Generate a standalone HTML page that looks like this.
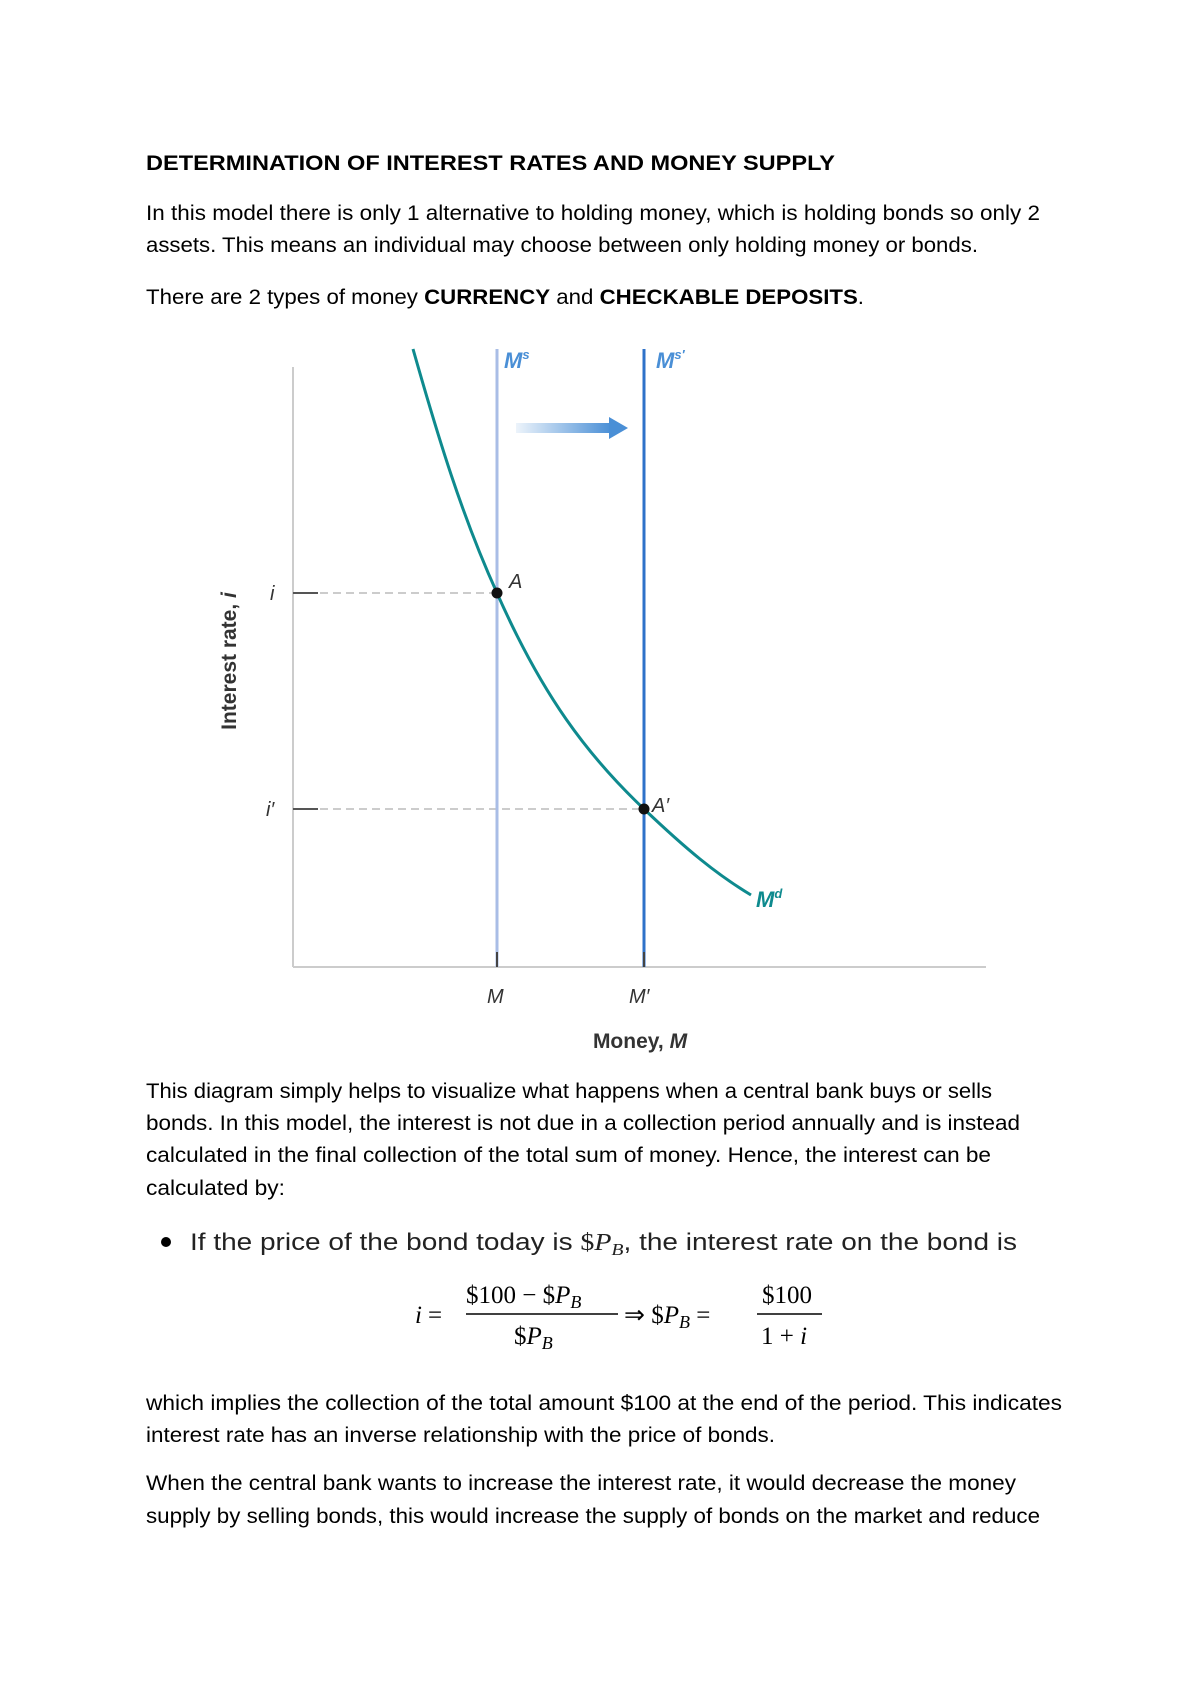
<!DOCTYPE html>
<html><head><meta charset="utf-8"><style>
html,body{margin:0;padding:0;background:#fff}
svg{display:block}
.t{font-family:"Liberation Sans",sans-serif;font-size:21px;fill:#000}
.m{font-family:"Liberation Serif",serif;font-size:25px;fill:#000}
.c{font-family:"Liberation Sans",sans-serif;fill:#333}
</style></head><body>
<svg width="1200" height="1698" viewBox="0 0 1200 1698" xmlns="http://www.w3.org/2000/svg">
<text class="t" x="146" y="170" font-weight="bold" textLength="689" lengthAdjust="spacingAndGlyphs">DETERMINATION OF INTEREST RATES AND MONEY SUPPLY</text>
<text class="t" x="146" y="220" textLength="894" lengthAdjust="spacingAndGlyphs">In this model there is only 1 alternative to holding money, which is holding bonds so only 2</text>
<text class="t" x="146" y="252" textLength="832" lengthAdjust="spacingAndGlyphs">assets. This means an individual may choose between only holding money or bonds.</text>
<text class="t" x="146" y="304" textLength="718" lengthAdjust="spacingAndGlyphs">There are 2 types of money <tspan font-weight="bold">CURRENCY</tspan> and <tspan font-weight="bold">CHECKABLE DEPOSITS</tspan>.</text>

<!-- chart -->
<line x1="293" y1="367" x2="293" y2="967" stroke="#ccc" stroke-width="2"/>
<line x1="293" y1="967" x2="986" y2="967" stroke="#ccc" stroke-width="2"/>
<line x1="293" y1="593" x2="318" y2="593" stroke="#555" stroke-width="2"/>
<line x1="293" y1="809" x2="318" y2="809" stroke="#555" stroke-width="2"/>
<line x1="320" y1="593" x2="497" y2="593" stroke="#bbb" stroke-width="1.5" stroke-dasharray="8,5"/>
<line x1="320" y1="809" x2="644" y2="809" stroke="#bbb" stroke-width="1.5" stroke-dasharray="8,5"/>
<line x1="497" y1="349" x2="497" y2="967" stroke="#a9bde6" stroke-width="3"/>
<line x1="644" y1="349" x2="644" y2="967" stroke="#2f72c9" stroke-width="3"/>
<line x1="497" y1="952" x2="497" y2="967" stroke="#444" stroke-width="2"/>
<line x1="644" y1="952" x2="644" y2="967" stroke="#444" stroke-width="2"/>
<path d="M413,349 C438,437 462,516 497,593 C542,695 587,755 644,809 C686,849 716,874 751,895" fill="none" stroke="#0e8a8e" stroke-width="3"/>
<defs><linearGradient id="g" x1="0" x2="1"><stop offset="0" stop-color="#4a8fd6" stop-opacity="0.1"/><stop offset="1" stop-color="#4a8fd6"/></linearGradient></defs>
<rect x="516" y="423" width="95" height="10" fill="url(#g)"/>
<polygon points="609,417 628,428 609,439" fill="#4a8fd6"/>
<circle cx="497" cy="593" r="5.5" fill="#111"/>
<circle cx="644" cy="809" r="5.5" fill="#111"/>
<text class="c" x="509" y="588" font-size="20" font-style="italic">A</text>
<text class="c" x="652" y="812" font-size="20" font-style="italic">A′</text>
<text x="504" y="368" font-family="Liberation Sans,sans-serif" font-size="22" font-weight="bold" font-style="italic" fill="#4a8fd6">M<tspan font-size="13" dy="-9">s</tspan></text>
<text x="656" y="368" font-family="Liberation Sans,sans-serif" font-size="22" font-weight="bold" font-style="italic" fill="#4a8fd6">M<tspan font-size="13" dy="-9">s′</tspan></text>
<text x="756" y="907" font-family="Liberation Sans,sans-serif" font-size="22" font-weight="bold" font-style="italic" fill="#0e8a8e">M<tspan font-size="13" dy="-9">d</tspan></text>
<text class="c" x="270" y="600" font-size="20" font-style="italic">i</text>
<text class="c" x="266" y="816" font-size="20" font-style="italic">i′</text>
<text class="c" x="487" y="1003" font-size="20" font-style="italic">M</text>
<text class="c" x="629" y="1003" font-size="20" font-style="italic">M′</text>
<text class="c" x="640" y="1048" font-size="21" font-weight="bold" text-anchor="middle">Money, <tspan font-style="italic">M</tspan></text>
<text class="c" x="0" y="0" font-size="21" font-weight="bold" text-anchor="middle" transform="translate(236,661) rotate(-90)">Interest rate, <tspan font-style="italic">i</tspan></text>

<text class="t" x="146" y="1098" textLength="846" lengthAdjust="spacingAndGlyphs">This diagram simply helps to visualize what happens when a central bank buys or sells</text>
<text class="t" x="146" y="1130" textLength="874" lengthAdjust="spacingAndGlyphs">bonds. In this model, the interest is not due in a collection period annually and is instead</text>
<text class="t" x="146" y="1162" textLength="845" lengthAdjust="spacingAndGlyphs">calculated in the final collection of the total sum of money. Hence, the interest can be</text>
<text class="t" x="146" y="1195" textLength="139" lengthAdjust="spacingAndGlyphs">calculated by:</text>

<circle cx="166" cy="1242" r="5" fill="#000"/>
<text x="190" y="1250" font-family="Liberation Sans,sans-serif" font-size="24" fill="#222" textLength="827" lengthAdjust="spacingAndGlyphs">If the price of the bond today is <tspan font-family="Liberation Serif,serif">$<tspan font-style="italic">P</tspan><tspan font-style="italic" font-size="17" dy="5">B</tspan></tspan><tspan dy="-5">, the interest rate on the bond is</tspan></text>

<text class="m" x="415" y="1323" font-style="italic">i</text>
<text class="m" x="428" y="1323">=</text>
<text class="m" x="466" y="1303">$100 − $<tspan font-style="italic">P</tspan><tspan font-style="italic" font-size="18" dy="5">B</tspan></text>
<line x1="466" y1="1314" x2="618" y2="1314" stroke="#000" stroke-width="1.5"/>
<text class="m" x="514" y="1344">$<tspan font-style="italic">P</tspan><tspan font-style="italic" font-size="18" dy="5">B</tspan></text>
<text class="m" x="624" y="1323">⇒ $<tspan font-style="italic">P</tspan><tspan font-style="italic" font-size="18" dy="5">B</tspan><tspan dy="-5"> =</tspan></text>
<text class="m" x="762" y="1303">$100</text>
<line x1="757" y1="1314" x2="822" y2="1314" stroke="#000" stroke-width="1.5"/>
<text class="m" x="761" y="1344">1 + <tspan font-style="italic">i</tspan></text>

<text class="t" x="146" y="1410" textLength="916" lengthAdjust="spacingAndGlyphs">which implies the collection of the total amount $100 at the end of the period. This indicates</text>
<text class="t" x="146" y="1442" textLength="629" lengthAdjust="spacingAndGlyphs">interest rate has an inverse relationship with the price of bonds.</text>
<text class="t" x="146" y="1490" textLength="870" lengthAdjust="spacingAndGlyphs">When the central bank wants to increase the interest rate, it would decrease the money</text>
<text class="t" x="146" y="1523" textLength="894" lengthAdjust="spacingAndGlyphs">supply by selling bonds, this would increase the supply of bonds on the market and reduce</text>
</svg>
</body></html>
